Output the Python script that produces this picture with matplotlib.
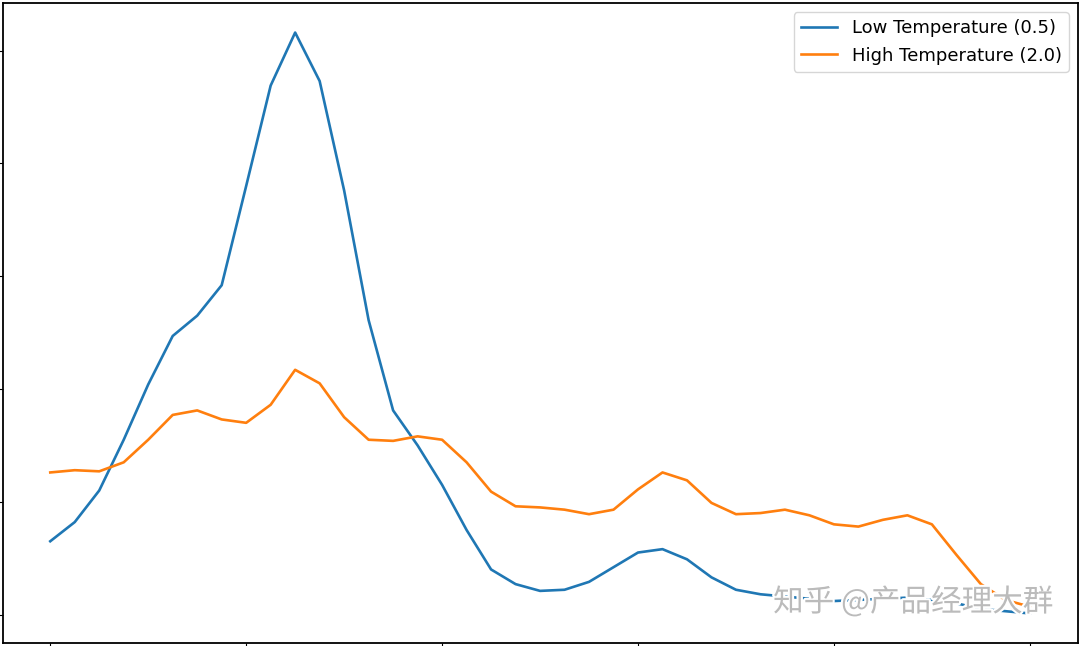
import numpy as np
import matplotlib as mpl
mpl.use('Agg')
import matplotlib.pyplot as plt
import matplotlib.patheffects as pe

plt.rcParams['font.family'] = ['DejaVu Sans', 'Noto Sans CJK SC']

x = np.arange(0, 100.1, 2.5)
low_temp = [0.65, 0.82, 1.1, 1.55, 2.04, 2.47, 2.65, 2.92, 3.8, 4.69, 5.16, 4.73, 3.76, 2.61,
            1.81, 1.5, 1.15, 0.75, 0.4, 0.27, 0.21, 0.22, 0.29, 0.42, 0.55, 0.58, 0.49, 0.33,
            0.22, 0.18, 0.16, 0.14, 0.12, 0.13, 0.14, 0.15, 0.13, 0.1, 0.05, 0.03, 0.01]
high_temp = [1.26, 1.28, 1.27, 1.35, 1.55, 1.77, 1.81, 1.73, 1.7, 1.86, 2.17, 2.05, 1.75, 1.55,
             1.54, 1.58, 1.55, 1.35, 1.09, 0.96, 0.95, 0.93, 0.89, 0.93, 1.11, 1.26, 1.19, 0.99,
             0.89, 0.9, 0.93, 0.88, 0.8, 0.78, 0.84, 0.88, 0.8, 0.53, 0.27, 0.13, 0.07]

fig = plt.figure(figsize=(10.8, 6.46), dpi=100)
ax = fig.add_axes([0.003, 0.005, 0.995, 0.99])
ax.plot(x, low_temp, color='#1f77b4', lw=1.9, label='Low Temperature (0.5)')
ax.plot(x, high_temp, color='#ff7f0e', lw=1.9, label='High Temperature (2.0)')
ax.set_xlim(-4.8, 104.9)
ax.set_ylim(-0.25, 5.42)
ax.set_xticks([0, 20, 40, 60, 80, 100])
ax.set_yticks([0, 1, 2, 3, 4, 5])
ax.tick_params(labelleft=False, labelbottom=False, length=6)
for s in ax.spines.values():
    s.set_linewidth(1.3)
ax.legend(loc='upper right', fontsize=13)
fig.text(0.975, 0.068, '知乎 @产品经理大群', ha='right', va='center', fontsize=22,
         color='#bbbbbb', family=['Noto Sans CJK SC', 'DejaVu Sans'],
         path_effects=[pe.withStroke(linewidth=3, foreground='white')])
plt.savefig('out.png')
